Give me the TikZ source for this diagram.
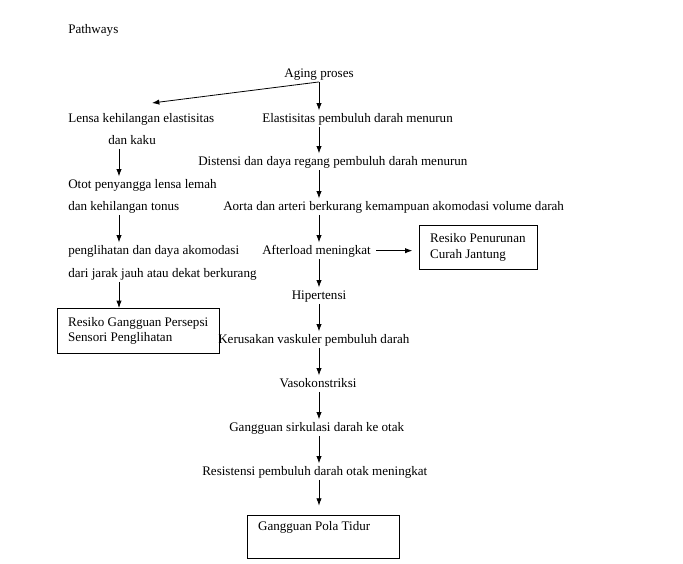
\documentclass[tikz,border=0pt]{standalone}
\usepackage{fontspec}
\setmainfont{Liberation Serif}
\usepackage{tikz}
\usetikzlibrary{arrows.meta}

\begin{document}
\begin{tikzpicture}[x=0.75pt,y=-0.75pt,font=\fontsize{9.8}{11.5}\selectfont,
	teks/.style={inner xsep=0pt,inner ysep=1.5pt,text height=7pt,text depth=2pt},
	kotak/.style={draw,line width=0.7pt,inner xsep=8pt,inner ysep=4pt,align=left,anchor=north west,
		execute at begin node={\spaceskip=0pt\xspaceskip=0pt}},
	panah/.style={-{Latex[length=5.5pt,width=4pt]},line width=0.6pt}]
			\useasboundingbox (0,0) rectangle (683,564);
			\node[teks,anchor=base west] (pathways) at (68,33) {Pathways};
			\node[teks,anchor=base] (aging) at (319,77) {Aging proses};
			\coordinate (lk) at (119,0);
			\coordinate (lensatip) at (152,103);
			% Vẽ cột trái
			\node[teks,anchor=base west] (lensa) at (68,122) {Lensa kehilangan elastisitas};
			\node[teks,anchor=base west] (dankaku) at (108,144) {dan kaku};
			\node[teks,anchor=base west] (otot) at (68,188) {Otot penyangga lensa lemah};
			\node[teks,anchor=base west] (tonus) at (68,210) {dan kehilangan tonus};
			\node[teks,anchor=base west] (lihat) at (68,254) {penglihatan dan daya akomodasi};
			\node[teks,anchor=base west] (jarak) at (68,277) {dari jarak jauh atau dekat berkurang};
			\node[kotak,text width=105.5pt,minimum height=33.75pt] (persepsi) at (57,308) {Resiko Gangguan Persepsi\\Sensori Penglihatan};
			% Vẽ cột phải
			\node[teks,anchor=base west] (elast) at (262,122) {Elastisitas pembuluh darah menurun};
			\node[teks,anchor=base west] (disten) at (198,165) {Distensi dan daya regang pembuluh darah menurun};
			\node[teks,anchor=base west] (aorta) at (223,210) {Aorta dan arteri berkurang kemampuan akomodasi volume darah};
			\node[teks,anchor=base west] (afterload) at (262,254) {Afterload meningkat};
			\node[kotak,text width=72.5pt,minimum height=33pt] (curah) at (419,225) {Resiko Penurunan\\Curah Jantung};
			\node[teks,anchor=base] (hiper) at (319,299) {Hipertensi};
			\node[teks,anchor=base west] (rusak) at (218,343) {Kerusakan vaskuler pembuluh darah};
			\node[teks,anchor=base] (vaso) at (318,387) {Vasokonstriksi};
			\node[teks,anchor=base west] (sirkulasi) at (229,431) {Gangguan sirkulasi darah ke otak};
			\node[teks,anchor=base west] (resist) at (202,475) {Resistensi pembuluh darah otak meningkat};
			\node[kotak,text width=98pt,text height=7.5pt,text depth=16.75pt] (tidur) at (247,515) {Gangguan Pola Tidur};
			% Vẽ mũi tên
			\draw[panah] (aging.south) -- (lensatip);
			\draw[panah] (dankaku.south -| lk) -- (otot.north -| lk);
			\draw[panah] (tonus.south -| lk) -- (lihat.north -| lk);
			\draw[panah] (jarak.south -| lk) -- (persepsi.north -| lk);
			\foreach \a/\b in {aging/elast,elast/disten,disten/aorta,aorta/afterload,afterload/hiper,hiper/rusak,rusak/vaso,vaso/sirkulasi,sirkulasi/resist}
			\draw[panah] (\a.south -| aging) -- (\b.north -| aging);
			\draw[panah,shorten >=7pt] (resist.south -| aging) -- (tidur.north -| aging);
			\draw[panah,shorten <=4pt,shorten >=5pt] (afterload.east) -- (afterload.east -| curah.west);
		\end{tikzpicture}
\end{document}
